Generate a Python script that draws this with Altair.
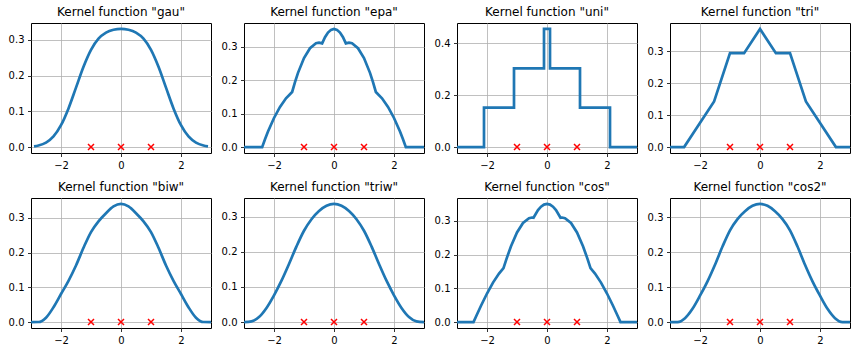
import altair as alt
import pandas as pd

kernels = ["gau", "epa", "uni", "tri", "biw", "triw", "cos", "cos2"]
sample_x = [-1, 0, 1]
sample_y = [0, 0, 0]
x_ticks = [-2, 0, 2]
y_ticks_default = [0.0, 0.1, 0.2, 0.3]
y_ticks_uni = [0.0, 0.1, 0.2, 0.3, 0.4]

# ---- curves ----
gau_x = [-2.9, -2.75, -2.5, -2.25, -2.0, -1.75, -1.5, -1.25, -1.0, -0.75, -0.5, -0.25, 0.0,
         0.25, 0.5, 0.75, 1.0, 1.25, 1.5, 1.75, 2.0, 2.25, 2.5, 2.75, 2.9]
gau_y = [0.0022, 0.0045, 0.0125, 0.0298, 0.0613, 0.1084, 0.1665, 0.2249, 0.2723, 0.3035, 0.3205, 0.3285, 0.331,
         0.3285, 0.3205, 0.3035, 0.2723, 0.2249, 0.1665, 0.1084, 0.0613, 0.0298, 0.0125, 0.0045, 0.0022]

epa_x = [-3.0, -2.395, -2.3, -2.2, -2.0, -1.8, -1.6, -1.395, -1.3, -1.2, -1.0, -0.8, -0.6, -0.5, -0.395,
         -0.3, -0.2, -0.1, 0.0, 0.1, 0.2, 0.3,
         0.395, 0.5, 0.6, 0.8, 1.0, 1.2, 1.3, 1.395, 1.6, 1.8, 2.0, 2.2, 2.3, 2.395, 3.0]
epa_y = [0.0, 0.0, 0.0236, 0.0466, 0.0871, 0.1203, 0.1461, 0.1648, 0.1945, 0.2221, 0.2663, 0.2958, 0.3105, 0.3124, 0.3103,
         0.3286, 0.3424, 0.3507, 0.3535, 0.3507, 0.3424, 0.3286,
         0.3103, 0.3124, 0.3105, 0.2958, 0.2663, 0.2221, 0.1945, 0.1648, 0.1461, 0.1203, 0.0871, 0.0466, 0.0236, 0.0, 0.0]

uni_x = [-3.0, -2.1, -2.1, -1.1, -1.1, -0.1, -0.1, 0.1, 0.1, 1.1, 1.1, 2.1, 2.1, 3.0]
uni_y = [0.0, 0.0, 0.152, 0.152, 0.304, 0.304, 0.456, 0.456, 0.304, 0.304, 0.152, 0.152, 0.0, 0.0]

tri_x = [-3.0, -2.53, -1.53, -1.0, -0.53, 0.0, 0.53, 1.0, 1.53, 2.53, 3.0]
tri_y = [0.0, 0.0, 0.1424, 0.2934, 0.2934, 0.369, 0.2934, 0.2934, 0.1424, 0.0, 0.0]

grid_x = [-3.0, -2.75, -2.5, -2.25, -2.0, -1.75, -1.5, -1.25, -1.0, -0.75, -0.5, -0.25, 0.0,
          0.25, 0.5, 0.75, 1.0, 1.25, 1.5, 1.75, 2.0, 2.25, 2.5, 2.75, 3.0]
biw_y = [0.0, 0.0002, 0.0126, 0.0429, 0.081, 0.119, 0.1632, 0.2142, 0.2595, 0.2903, 0.3138, 0.3332, 0.3406,
         0.3332, 0.3138, 0.2903, 0.2595, 0.2142, 0.1632, 0.119, 0.081, 0.0429, 0.0126, 0.0002, 0.0]
triw_y = [0.0, 0.002, 0.0145, 0.0404, 0.0763, 0.1178, 0.1654, 0.2155, 0.26, 0.2929, 0.3163, 0.3312, 0.3364,
          0.3312, 0.3163, 0.2929, 0.26, 0.2155, 0.1654, 0.1178, 0.0763, 0.0404, 0.0145, 0.002, 0.0]
cos2_y = [0.0, 0.0001, 0.0112, 0.038, 0.0756, 0.1167, 0.1643, 0.2163, 0.2628, 0.295, 0.3174, 0.3329, 0.3384,
          0.3329, 0.3174, 0.295, 0.2628, 0.2163, 0.1643, 0.1167, 0.0756, 0.038, 0.0112, 0.0001, 0.0]

cos_x = [-3.0, -2.45, -2.35, -2.2, -2.0, -1.8, -1.6, -1.45, -1.35, -1.2, -1.0, -0.8, -0.6, -0.5, -0.45,
         -0.3, -0.2, -0.1, 0.0, 0.1, 0.2, 0.3,
         0.45, 0.5, 0.6, 0.8, 1.0, 1.2, 1.35, 1.45, 1.6, 1.8, 2.0, 2.2, 2.35, 2.45, 3.0]
cos_y = [0.0, 0.0, 0.0195, 0.0483, 0.0846, 0.1169, 0.1438, 0.1596, 0.1873, 0.2247, 0.2652, 0.2933, 0.3077, 0.3095, 0.309,
         0.3315, 0.3416, 0.3477, 0.3498, 0.3477, 0.3416, 0.3315,
         0.309, 0.3095, 0.3077, 0.2933, 0.2652, 0.2247, 0.1873, 0.1596, 0.1438, 0.1169, 0.0846, 0.0483, 0.0195, 0.0, 0.0]

curves = {
    "gau": (gau_x, gau_y, "monotone"),
    "epa": (epa_x, epa_y, "linear"),
    "uni": (uni_x, uni_y, "linear"),
    "tri": (tri_x, tri_y, "linear"),
    "biw": (grid_x, biw_y, "monotone"),
    "triw": (grid_x, triw_y, "monotone"),
    "cos": (cos_x, cos_y, "linear"),
    "cos2": (grid_x, cos2_y, "monotone"),
}

FONT = "DejaVu Sans"
BLUE = "#1f77b4"

panels = []
for k in kernels:
    xs, ys, interp = curves[k]
    df = pd.DataFrame({"x": xs, "y": ys, "i": list(range(len(xs)))})
    ymax = max(ys)
    ydom = [-0.05 * ymax, 1.05 * ymax]
    yticks = y_ticks_uni if k == "uni" else y_ticks_default
    xscale = alt.Scale(domain=[-3, 3], nice=False, zero=False)
    yscale = alt.Scale(domain=ydom, nice=False, zero=False)
    xaxis = alt.Axis(values=x_ticks, title=None, format="d")
    yaxis = alt.Axis(values=yticks, title=None, format=".1f")
    line = alt.Chart(df).mark_line(
        color=BLUE, strokeWidth=2.7, interpolate=interp, clip=True
    ).encode(
        x=alt.X("x:Q", scale=xscale, axis=xaxis),
        y=alt.Y("y:Q", scale=yscale, axis=yaxis),
        order=alt.Order("i:Q"),
    )
    pts = alt.Chart(pd.DataFrame({"x": sample_x, "y": sample_y})).mark_point(
        shape="M-1,-1L1,1M-1,1L1,-1", size=36, filled=False,
        stroke="red", strokeWidth=1.5, opacity=1
    ).encode(x="x:Q", y="y:Q")
    panel = alt.layer(line, pts).properties(
        width=180, height=130,
        title=alt.TitleParams(
            text=f'Kernel function "{k}"', font=FONT, fontSize=12,
            fontWeight="normal", color="black", anchor="middle", offset=4
        ),
    )
    panels.append(panel)

chart = alt.concat(*panels, columns=4, spacing={"row": 45, "column": 33}).properties(
    bounds="flush",
    padding={"left": 7, "top": 5, "right": 0, "bottom": 0},
    background="white",
).configure_view(
    stroke="black", strokeWidth=1
).configure_axis(
    grid=True, gridColor="#b0b0b0", gridWidth=0.8, domain=False,
    ticks=True, tickColor="black", tickSize=3.5, tickWidth=0.8,
    labelFont=FONT, labelFontSize=10, labelColor="black", labelPadding=3.5,
)

chart.save("out.html", embed_options={"renderer": "svg", "actions": False})
